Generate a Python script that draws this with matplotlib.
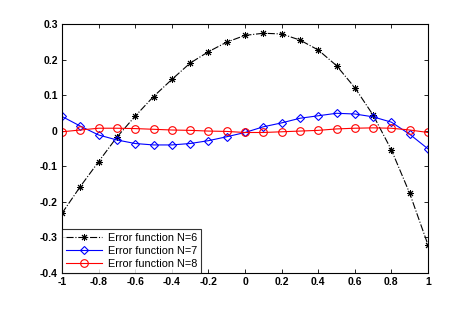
import matplotlib
matplotlib.use("Agg")
import matplotlib.pyplot as plt
import numpy as np

x = [round(-1 + 0.1 * i, 1) for i in range(21)]
err_n6 = [-0.232, -0.157, -0.087, -0.018, 0.041, 0.096, 0.144, 0.190, 0.222, 0.249,
          0.268, 0.274, 0.272, 0.255, 0.227, 0.183, 0.121, 0.044, -0.054, -0.176, -0.321]
err_n7 = [0.040, 0.013, -0.012, -0.026, -0.036, -0.040, -0.040, -0.036, -0.028, -0.017,
          -0.005, 0.011, 0.022, 0.035, 0.042, 0.049, 0.047, 0.039, 0.024, -0.010, -0.051]
err_n8 = [-0.003, 0.002, 0.007, 0.007, 0.006, 0.004, 0.002, 0.001, -0.001, -0.002,
          -0.005, -0.005, -0.003, -0.001, 0.001, 0.005, 0.007, 0.008, 0.007, 0.002, -0.005]
labels = ["Error function N=6", "Error function N=7", "Error function N=8"]
xticks = [-1, -0.8, -0.6, -0.4, -0.2, 0, 0.2, 0.4, 0.6, 0.8, 1]
xticklabels = ["-1", "-0.8", "-0.6", "-0.4", "-0.2", "0", "0.2", "0.4", "0.6", "0.8", "1"]
yticks = [-0.4, -0.3, -0.2, -0.1, 0, 0.1, 0.2, 0.3]
yticklabels = ["-0.4", "-0.3", "-0.2", "-0.1", "0", "0.1", "0.2", "0.3"]

plt.rcParams['font.family'] = ['Liberation Sans', 'DejaVu Sans']
fig = plt.figure(figsize=(4.74, 3.32), dpi=100)
ax = fig.add_axes([62/474, 59/332, (428-62)/474, (273-24)/332])

ax.plot(x, err_n6, color='black', linestyle='-.', linewidth=0.8, marker=(8, 2, 0),
        markersize=5, markeredgewidth=0.7, label=labels[0])
ax.plot(x, err_n7, color='blue', linestyle='-', linewidth=0.8, marker='D',
        markersize=4.3, markerfacecolor='none', markeredgewidth=0.8, label=labels[1])
ax.plot(x, err_n8, color='red', linestyle='-', linewidth=0.8, marker='o',
        markersize=5.5, markerfacecolor='none', markeredgewidth=0.8, label=labels[2])

ax.set_xlim(-1, 1)
ax.set_ylim(-0.4, 0.3)
ax.set_xticks(xticks)
ax.set_xticklabels(xticklabels, fontsize=7.5, fontweight='bold')
ax.set_yticks(yticks)
ax.set_yticklabels(yticklabels, fontsize=7.5, fontweight='bold')
ax.tick_params(direction='in', top=True, right=True, length=3, width=0.6, pad=3)
for s in ax.spines.values():
    s.set_linewidth(0.8)

leg = ax.legend(loc='lower left', fontsize=7.8, frameon=True, fancybox=False,
                edgecolor='black', borderaxespad=0, handlelength=3.3,
                labelspacing=0.3, borderpad=0.35, handletextpad=0.6)
leg.get_frame().set_linewidth(0.8)

fig.savefig("out.png", dpi=100)
